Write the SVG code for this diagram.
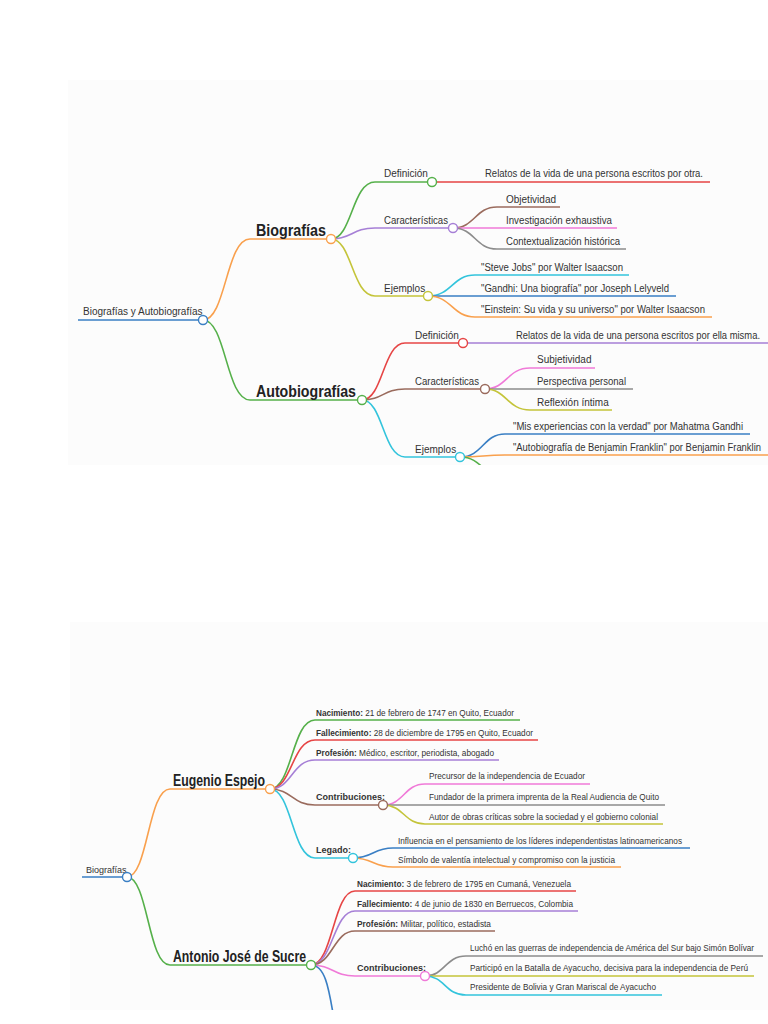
<svg xmlns="http://www.w3.org/2000/svg" width="768" height="1024" viewBox="0 0 768 1024">
<defs>
<clipPath id="c1"><rect x="68" y="80" width="700" height="385"/></clipPath>
<clipPath id="c2"><rect x="70" y="622" width="698" height="388"/></clipPath>
<style>
text{font-family:"Liberation Sans",Arial,sans-serif;fill:#333}
.t{font-size:10px}.s{font-size:9px}
.h{font-size:16px;font-weight:bold;fill:#222}
.b{font-weight:bold}
path{fill:none;stroke-width:1.6}
circle{fill:#fff;stroke-width:1.4}
.g{stroke:#55b04a}.o{stroke:#f9a04d}.r{stroke:#e64545}.p{stroke:#a67fd6}.br{stroke:#9a6b5d}.pk{stroke:#f07ad8}.gy{stroke:#8c8c8c}.ol{stroke:#c4c43a}.cy{stroke:#33c4dc}.bl{stroke:#3a7fc4}
</style>
</defs>
<rect width="768" height="1024" fill="#fff"/>
<rect x="68" y="80" width="700" height="385" fill="#fcfcfc"/>
<rect x="70" y="622" width="698" height="388" fill="#fcfcfc"/>
<g id="connectors1" clip-path="url(#c1)">
<path class="bl" d="M78 320H203"/>
<path class="o" d="M203 320C226 320 226 239 250 239H331"/>
<path class="g" d="M203 320C226 320 226 400 250 400H362"/>
<path class="g" d="M331 239C352 239 352 182 375 182H432"/>
<path class="r" d="M432 182H710"/>
<path class="p" d="M331 239C352 239 352 228 375 228H453"/>
<path class="ol" d="M331 239C352 239 352 296 375 296H428"/>
<path class="br" d="M453 228C475 228 475 207 497 207H560"/>
<path class="pk" d="M453 228H617"/>
<path class="gy" d="M453 228C475 228 475 249 497 249H626"/>
<path class="cy" d="M428 296C452 296 452 275 475 275H629"/>
<path class="bl" d="M428 296H676"/>
<path class="o" d="M428 296C452 296 452 317 475 317H712"/>
<path class="r" d="M362 400C383 400 383 343 405 343H463"/>
<path class="p" d="M463 343H768"/>
<path class="br" d="M362 400C383 400 383 389 405 389H485"/>
<path class="cy" d="M362 400C383 400 383 457 405 457H460"/>
<path class="pk" d="M485 389C507 389 507 368 530 368H595"/>
<path class="gy" d="M485 389H633"/>
<path class="ol" d="M485 389C507 389 507 410 530 410H612"/>
<path class="bl" d="M460 457C483 457 483 434 505 434H750"/>
<path class="o" d="M460 457C483 457 483 455 505 455H768"/>
<path class="g" d="M460 457C483 457 483 478 505 478H700"/>
</g>
<g id="root1"><text class="t" x="83" y="315">Biografías y Autobiografías</text><circle class="bl" cx="203" cy="320" r="4.5"/></g>
<g id="bio"><text class="h" x="256" y="236" textLength="70" lengthAdjust="spacingAndGlyphs">Biografías</text><circle class="o" cx="331" cy="239" r="4.5"/></g>
<g id="auto"><text class="h" x="256" y="397" textLength="100" lengthAdjust="spacingAndGlyphs">Autobiografías</text><circle class="g" cx="362" cy="400" r="4.5"/></g>
<g id="bdef"><text class="t" x="384" y="177">Definición</text><circle class="g" cx="432" cy="182" r="4.5"/></g>
<g id="bdeft"><text class="t" x="485" y="177" textLength="218" lengthAdjust="spacingAndGlyphs">Relatos de la vida de una persona escritos por otra.</text></g>
<g id="bcar"><text class="t" x="384" y="224" textLength="64" lengthAdjust="spacingAndGlyphs">Características</text><circle class="p" cx="453" cy="228" r="4.5"/></g>
<g id="b1"><text class="t" x="506" y="203">Objetividad</text></g>
<g id="b2"><text class="t" x="506" y="224" textLength="106" lengthAdjust="spacingAndGlyphs">Investigación exhaustiva</text></g>
<g id="b3"><text class="t" x="506" y="245" textLength="114" lengthAdjust="spacingAndGlyphs">Contextualización histórica</text></g>
<g id="beje"><text class="t" x="384" y="292">Ejemplos</text><circle class="ol" cx="428" cy="296" r="4.5"/></g>
<g id="b4"><text class="t" x="481" y="271" textLength="142" lengthAdjust="spacingAndGlyphs">"Steve Jobs" por Walter Isaacson</text></g>
<g id="b5"><text class="t" x="481" y="292" textLength="188" lengthAdjust="spacingAndGlyphs">"Gandhi: Una biografía" por Joseph Lelyveld</text></g>
<g id="b6"><text class="t" x="481" y="313" textLength="224" lengthAdjust="spacingAndGlyphs">"Einstein: Su vida y su universo" por Walter Isaacson</text></g>
<g id="adef"><text class="t" x="415" y="339">Definición</text><circle class="r" cx="463" cy="343" r="4.5"/></g>
<g id="adeft"><text class="t" x="516" y="339" textLength="244" lengthAdjust="spacingAndGlyphs">Relatos de la vida de una persona escritos por ella misma.</text></g>
<g id="acar"><text class="t" x="415" y="385" textLength="64" lengthAdjust="spacingAndGlyphs">Características</text><circle class="br" cx="485" cy="389" r="4.5"/></g>
<g id="a1"><text class="t" x="537" y="363">Subjetividad</text></g>
<g id="a2"><text class="t" x="537" y="385" textLength="89" lengthAdjust="spacingAndGlyphs">Perspectiva personal</text></g>
<g id="a3"><text class="t" x="537" y="406">Reflexión íntima</text></g>
<g id="aeje"><text class="t" x="415" y="453">Ejemplos</text><circle class="cy" cx="460" cy="457" r="4.5"/></g>
<g id="a4"><text class="t" x="513" y="430" textLength="230" lengthAdjust="spacingAndGlyphs">"Mis experiencias con la verdad" por Mahatma Gandhi</text></g>
<g id="a5"><text class="t" x="513" y="451" textLength="248" lengthAdjust="spacingAndGlyphs">"Autobiografía de Benjamin Franklin" por Benjamin Franklin</text></g>
<g id="connectors2" clip-path="url(#c2)">
<path class="bl" d="M82 877H127"/>
<path class="o" d="M127 877C148 877 148 789 170 789H270"/>
<path class="g" d="M127 877C148 877 148 965 170 965H311"/>
<path class="g" d="M270 789C292 789 292 720 315 720H520"/>
<path class="r" d="M270 789C292 789 292 740 315 740H538"/>
<path class="p" d="M270 789C292 789 292 760 315 760H499"/>
<path class="br" d="M270 789C292 789 292 805 315 805H383"/>
<path class="cy" d="M270 789C292 789 292 858 315 858H353"/>
<path class="pk" d="M383 805C404 805 404 784 425 784H590"/>
<path class="gy" d="M383 805H665"/>
<path class="ol" d="M383 805C404 805 404 824 425 824H663"/>
<path class="bl" d="M353 858C373 858 373 848 393 848H690"/>
<path class="o" d="M353 858C373 858 373 867 393 867H621"/>
<path class="r" d="M311 965C333 965 333 891 355 891H576"/>
<path class="p" d="M311 965C333 965 333 911 355 911H578"/>
<path class="br" d="M311 965C333 965 333 931 355 931H495"/>
<path class="pk" d="M311 965C333 965 333 976 355 976H425"/>
<path class="bl" d="M311 965C328 965 330 1000 336 1030"/>
<path class="gy" d="M425 976C445 976 445 956 466 956H763"/>
<path class="ol" d="M425 976H754"/>
<path class="cy" d="M425 976C445 976 445 995 466 995H662"/>
</g>
<g id="root2"><text class="s" x="86" y="873">Biografías</text><circle class="bl" cx="127" cy="877" r="4.5"/></g>
<g id="espejo"><text class="h" x="173" y="786" textLength="92" lengthAdjust="spacingAndGlyphs">Eugenio Espejo</text><circle class="o" cx="270" cy="789" r="4.5"/></g>
<g id="sucre"><text class="h" x="173" y="962" textLength="133" lengthAdjust="spacingAndGlyphs">Antonio José de Sucre</text><circle class="g" cx="311" cy="965" r="4.5"/></g>
<g id="e1"><text class="s" x="316" y="716" textLength="198" lengthAdjust="spacingAndGlyphs"><tspan class="b">Nacimiento:</tspan> 21 de febrero de 1747 en Quito, Ecuador</text></g>
<g id="e2"><text class="s" x="316" y="736" textLength="217" lengthAdjust="spacingAndGlyphs"><tspan class="b">Fallecimiento:</tspan> 28 de diciembre de 1795 en Quito, Ecuador</text></g>
<g id="e3"><text class="s" x="316" y="756" textLength="178" lengthAdjust="spacingAndGlyphs"><tspan class="b">Profesión:</tspan> Médico, escritor, periodista, abogado</text></g>
<g id="e4"><text class="s b" x="316" y="800">Contribuciones:</text><circle class="br" cx="383" cy="805" r="4.5"/></g>
<g id="e41"><text class="s" x="429" y="779" textLength="156" lengthAdjust="spacingAndGlyphs">Precursor de la independencia de Ecuador</text></g>
<g id="e42"><text class="s" x="429" y="800" textLength="230" lengthAdjust="spacingAndGlyphs">Fundador de la primera imprenta de la Real Audiencia de Quito</text></g>
<g id="e43"><text class="s" x="429" y="820" textLength="229" lengthAdjust="spacingAndGlyphs">Autor de obras críticas sobre la sociedad y el gobierno colonial</text></g>
<g id="e5"><text class="s b" x="316" y="853">Legado:</text><circle class="cy" cx="353" cy="858" r="4.5"/></g>
<g id="e51"><text class="s" x="398" y="844" textLength="284" lengthAdjust="spacingAndGlyphs">Influencia en el pensamiento de los líderes independentistas latinoamericanos</text></g>
<g id="e52"><text class="s" x="398" y="863" textLength="217" lengthAdjust="spacingAndGlyphs">Símbolo de valentía intelectual y compromiso con la justicia</text></g>
<g id="s1"><text class="s" x="357" y="887" textLength="214" lengthAdjust="spacingAndGlyphs"><tspan class="b">Nacimiento:</tspan> 3 de febrero de 1795 en Cumaná, Venezuela</text></g>
<g id="s2"><text class="s" x="357" y="907" textLength="216" lengthAdjust="spacingAndGlyphs"><tspan class="b">Fallecimiento:</tspan> 4 de junio de 1830 en Berruecos, Colombia</text></g>
<g id="s3"><text class="s" x="357" y="927" textLength="134" lengthAdjust="spacingAndGlyphs"><tspan class="b">Profesión:</tspan> Militar, político, estadista</text></g>
<g id="s4"><text class="s b" x="357" y="971">Contribuciones:</text><circle class="pk" cx="425" cy="976" r="4.5"/></g>
<g id="s41"><text class="s" x="470" y="951" textLength="284" lengthAdjust="spacingAndGlyphs">Luchó en las guerras de independencia de América del Sur bajo Simón Bolívar</text></g>
<g id="s42"><text class="s" x="470" y="971" textLength="278" lengthAdjust="spacingAndGlyphs">Participó en la Batalla de Ayacucho, decisiva para la independencia de Perú</text></g>
<g id="s43"><text class="s" x="470" y="990" textLength="186" lengthAdjust="spacingAndGlyphs">Presidente de Bolivia y Gran Mariscal de Ayacucho</text></g>
</svg>
